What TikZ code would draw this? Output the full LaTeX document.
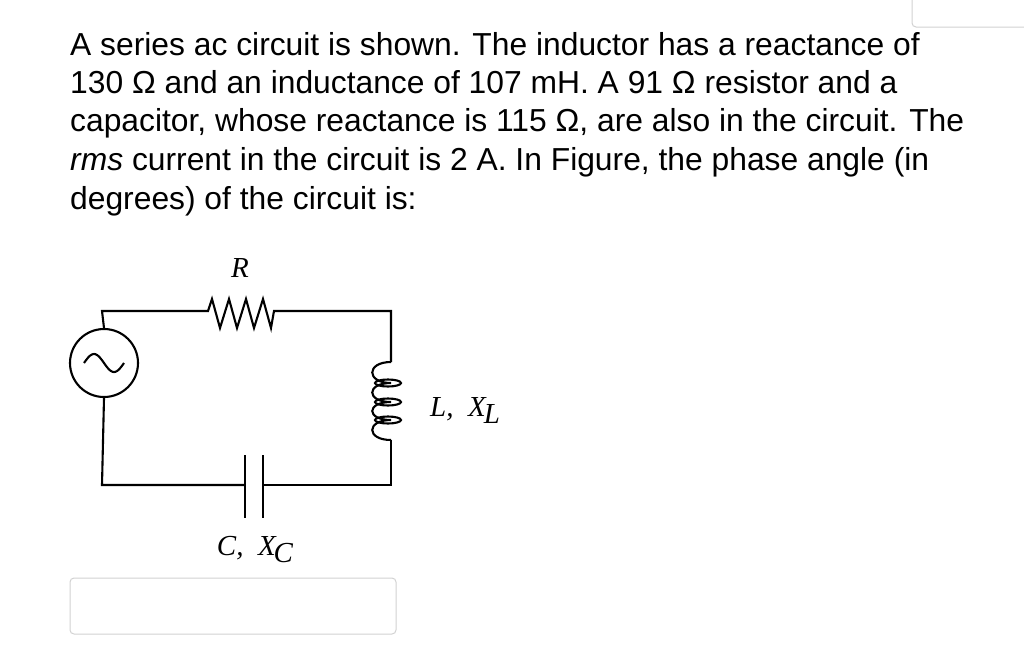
\documentclass[tikz,border=0pt]{standalone}
\usepackage{fontspec}
\setmainfont{Liberation Sans}
\newfontfamily\serifit{Liberation Serif}
\begin{document}
\begin{tikzpicture}[x=1pt,y=-1pt,
  txt/.style={anchor=base west,inner sep=0,font=\fontsize{31.8}{38}\selectfont},
  lab/.style={inner sep=0,font=\serifit\fontsize{29}{34}\selectfont},
  wire/.style={line width=2.1pt,line join=miter},
  box/.style={draw=gray!35,line width=1pt,rounded corners=4pt}]
\useasboundingbox (0,0) rectangle (1024,654);
\fill[white] (0,0) rectangle (1024,654);
\node[txt] (t1) at (70,55) {A series ac circuit is shown. The inductor has a reactance of};
\node[txt] (t2) at (70,93) {130 Ω and an inductance of 107 mH. A 91 Ω resistor and a};
\node[txt] (t3) at (70,131) {capacitor, whose reactance is 115 Ω, are also in the circuit. The};
\node[txt] (t4) at (70,170) {\textit{rms} current in the circuit is 2 A. In Figure, the phase angle (in};
\node[txt] (t5) at (70,209) {degrees) of the circuit is:};
% boxes
\draw[box] (70,578) rectangle (396,634);
\draw[box] (912,-10) rectangle (1034,27);
% circuit
\node[draw,circle,line width=2.1pt,minimum size=68pt,inner sep=0] (src) at (104,363) {};
\draw[line width=2.1pt,domain=0:1,samples=40,smooth] plot ({84+40*\x},{363-9*sin(360*\x)});
\coordinate (tl) at (102,311);
\coordinate (tr) at (391,311);
\coordinate (bl) at (102,485);
\coordinate (br) at (391,485);
\draw[wire] (src.north) -- (tl) -- (208,311) -- (212,299) -- (220,328) -- (229,299) -- (237,328) -- (246,299) -- (254,328) -- (263,299) -- (271,328) -- (274,311) -- (278,311) -- (tr) -- (391,362);
\draw[wire] (391,362) .. controls (366,362) and (366,383) .. (391,383)
  .. controls (366,383) and (366,402) .. (391,402)
  .. controls (366,402) and (366,420) .. (391,420)
  .. controls (366,420) and (366,440) .. (391,440);
\foreach \yy in {383,402,420} \draw[line width=2.1pt] (388,\yy) ellipse[x radius=13,y radius=3.5];
\draw[wire] (391,440) -- (br) -- (263,485);
\draw[wire] (263,455) -- (263,518);
\draw[wire] (245,455) -- (245,518);
\draw[wire] (245,485) -- (bl) -- (src.south);
\node[lab] (R) at (240,268) {\itshape R};
\node[lab,anchor=west] (L) at (430,410) {\itshape L,\ \ X\kern-2pt\raisebox{-7pt}{L}};
\node[lab] (C) at (255,550) {\itshape C,\ \ X\kern-2pt\raisebox{-7pt}{C}};
\end{tikzpicture}
\end{document}
